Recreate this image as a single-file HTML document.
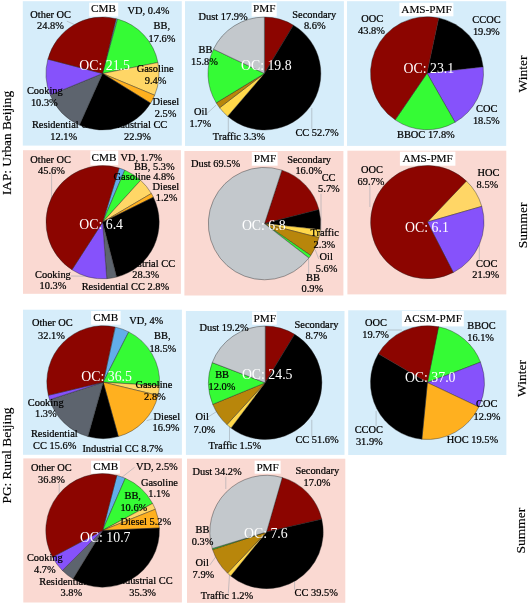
<!DOCTYPE html>
<html><head><meta charset="utf-8"><title>OC source apportionment</title>
<style>html,body{margin:0;padding:0;background:#fff}svg{display:block}text{font-family:"Liberation Serif","Times New Roman",serif}</style></head><body>
<svg width="529" height="605" viewBox="0 0 529 605">
<rect width="529" height="605" fill="#fff"/>
<rect x="22.8" y="1.2" width="159.0" height="144.4" fill="#d6edfa"/>
<rect x="185" y="1.2" width="158.9" height="144.7" fill="#d6edfa"/>
<rect x="347" y="1.2" width="159.2" height="144.7" fill="#d6edfa"/>
<rect x="23" y="150.2" width="157.9" height="143.6" fill="#fad9d2"/>
<rect x="184.4" y="151" width="159.0" height="144.5" fill="#fad9d2"/>
<rect x="347.4" y="150.7" width="158.9" height="143.7" fill="#fad9d2"/>
<rect x="23" y="309.7" width="158.9" height="145.1" fill="#d6edfa"/>
<rect x="185.9" y="311" width="158.6" height="143.9" fill="#d6edfa"/>
<rect x="348.2" y="310.3" width="158.2" height="144.7" fill="#d6edfa"/>
<rect x="23.3" y="458.4" width="158.6" height="144.1" fill="#fad9d2"/>
<rect x="187" y="458.7" width="158.3" height="144.1" fill="#fad9d2"/>
<rect x="89.2" y="2.7" width="29.0" height="13.8" fill="#fff"/>
<rect x="251.6" y="2.6" width="25.1" height="14.0" fill="#fff"/>
<rect x="399.4" y="2.7" width="54.0" height="13.6" fill="#fff"/>
<rect x="90.4" y="150.5" width="27.8" height="14.7" fill="#fff"/>
<rect x="251.8" y="152.0" width="25.8" height="13.7" fill="#fff"/>
<rect x="399.9" y="151.7" width="55.5" height="14.0" fill="#fff"/>
<rect x="91.1" y="311" width="29.5" height="13.7" fill="#fff"/>
<rect x="252.1" y="311.5" width="24.6" height="13.2" fill="#fff"/>
<rect x="401.9" y="311" width="61.9" height="15.4" fill="#fff"/>
<rect x="91.1" y="460.7" width="28.8" height="13.0" fill="#fff"/>
<rect x="254.6" y="460.7" width="26.0" height="13.0" fill="#fff"/>
<line x1="311.8" y1="108" x2="311.8" y2="129" stroke="#9ba1a8" stroke-width="0.55"/>
<line x1="228.3" y1="117.5" x2="228.3" y2="132.7" stroke="#9ba1a8" stroke-width="0.55"/>
<line x1="206.1" y1="114.3" x2="216" y2="105.2" stroke="#9ba1a8" stroke-width="0.55"/>
<line x1="51.6" y1="173.8" x2="51.6" y2="207" stroke="#9ba1a8" stroke-width="0.55"/>
<line x1="70.7" y1="276" x2="89" y2="276.3" stroke="#9ba1a8" stroke-width="0.55"/>
<line x1="369.9" y1="184.9" x2="369.9" y2="207" stroke="#9ba1a8" stroke-width="0.55"/>
<line x1="479.3" y1="245" x2="479.3" y2="259.8" stroke="#9ba1a8" stroke-width="0.55"/>
<line x1="311.8" y1="419.8" x2="311.8" y2="437" stroke="#9ba1a8" stroke-width="0.55"/>
<line x1="229.5" y1="426" x2="229.5" y2="442" stroke="#9ba1a8" stroke-width="0.55"/>
<line x1="207.4" y1="417.4" x2="217.2" y2="411.2" stroke="#9ba1a8" stroke-width="0.55"/>
<line x1="376.1" y1="411" x2="376.1" y2="426" stroke="#9ba1a8" stroke-width="0.55"/>
<line x1="134.6" y1="467.3" x2="121.1" y2="477.9" stroke="#9ba1a8" stroke-width="0.55"/>
<line x1="59.2" y1="483.5" x2="59.2" y2="494" stroke="#9ba1a8" stroke-width="0.55"/>
<line x1="225.8" y1="476.7" x2="225.8" y2="489" stroke="#9ba1a8" stroke-width="0.55"/>
<line x1="229.5" y1="575" x2="228.3" y2="593.4" stroke="#9ba1a8" stroke-width="0.55"/>
<line x1="294.6" y1="581" x2="294.6" y2="589.7" stroke="#9ba1a8" stroke-width="0.55"/>
<line x1="209.8" y1="565" x2="216" y2="556.5" stroke="#9ba1a8" stroke-width="0.55"/>
<line x1="66.9" y1="21.2" x2="73.7" y2="24.2" stroke="#9ba1a8" stroke-width="0.55"/>
<line x1="321" y1="193.7" x2="321" y2="232" stroke="#9ba1a8" stroke-width="0.55"/>
<line x1="308.6" y1="258.9" x2="308.6" y2="276.9" stroke="#9ba1a8" stroke-width="0.55"/>
<line x1="315.3" y1="249.9" x2="318.7" y2="258.9" stroke="#9ba1a8" stroke-width="0.55"/>
<line x1="146.6" y1="420.7" x2="152.7" y2="418.8" stroke="#9ba1a8" stroke-width="0.55"/>
<line x1="387.2" y1="330" x2="401.9" y2="330" stroke="#9ba1a8" stroke-width="0.55"/>
<g stroke="#222" stroke-width="0.4" stroke-linejoin="round">
<path d="M102.5 73.5L116.17 18.68A56.5 56.5 0 0 1 117.54 19.04Z" fill="#62aeea"/>
<path d="M102.5 73.5L117.54 19.04A56.5 56.5 0 0 1 157.92 62.53Z" fill="#35fb35"/>
<path d="M102.5 73.5L157.92 62.53A56.5 56.5 0 0 1 154.65 95.25Z" fill="#ffd666"/>
<path d="M102.5 73.5L154.65 95.25A56.5 56.5 0 0 1 150.60 103.14Z" fill="#ffb01f"/>
<path d="M102.5 73.5L150.60 103.14A56.5 56.5 0 0 1 79.45 125.08Z" fill="#000000"/>
<path d="M102.5 73.5L79.45 125.08A56.5 56.5 0 0 1 50.25 94.99Z" fill="#5d646e"/>
<path d="M102.5 73.5L50.25 94.99A56.5 56.5 0 0 1 47.85 59.14Z" fill="#8652fb"/>
<path d="M102.5 73.5L47.85 59.14A56.5 56.5 0 0 1 116.17 18.68Z" fill="#8c0500"/>
</g>
<g stroke="#222" stroke-width="0.4" stroke-linejoin="round">
<path d="M264.4 73.5L264.40 17.10A56.4 56.4 0 0 1 293.41 25.14Z" fill="#8c0500"/>
<path d="M264.4 73.5L293.41 25.14A56.4 56.4 0 1 1 227.64 116.27Z" fill="#000000"/>
<path d="M264.4 73.5L227.64 116.27A56.4 56.4 0 0 1 219.62 107.79Z" fill="#ffd84a"/>
<path d="M264.4 73.5L219.62 107.79A56.4 56.4 0 0 1 216.22 102.82Z" fill="#b8860b"/>
<path d="M264.4 73.5L216.22 102.82A56.4 56.4 0 0 1 213.52 49.17Z" fill="#35fb35"/>
<path d="M264.4 73.5L213.52 49.17A56.4 56.4 0 0 1 264.40 17.10Z" fill="#c3c8cc"/>
</g>
<g stroke="#222" stroke-width="0.4" stroke-linejoin="round">
<path d="M427.0 73.2L438.75 17.93A56.5 56.5 0 0 1 483.15 66.94Z" fill="#000000"/>
<path d="M427.0 73.2L483.15 66.94A56.5 56.5 0 0 1 455.04 122.25Z" fill="#8652fb"/>
<path d="M427.0 73.2L455.04 122.25A56.5 56.5 0 0 1 395.14 119.86Z" fill="#35fb35"/>
<path d="M427.0 73.2L395.14 119.86A56.5 56.5 0 0 1 438.75 17.93Z" fill="#8c0500"/>
</g>
<g stroke="#222" stroke-width="0.4" stroke-linejoin="round">
<path d="M102.6 222.2L119.15 168.07A56.6 56.6 0 0 1 124.82 170.15Z" fill="#62aeea"/>
<path d="M102.6 222.2L124.82 170.15A56.6 56.6 0 0 1 140.62 180.27Z" fill="#35fb35"/>
<path d="M102.6 222.2L140.62 180.27A56.6 56.6 0 0 1 151.36 193.46Z" fill="#ffd666"/>
<path d="M102.6 222.2L151.36 193.46A56.6 56.6 0 0 1 153.38 197.21Z" fill="#ffb01f"/>
<path d="M102.6 222.2L153.38 197.21A56.6 56.6 0 0 1 116.60 277.04Z" fill="#000000"/>
<path d="M102.6 222.2L116.60 277.04A56.6 56.6 0 0 1 106.78 278.65Z" fill="#5d646e"/>
<path d="M102.6 222.2L106.78 278.65A56.6 56.6 0 0 1 71.91 269.75Z" fill="#8652fb"/>
<path d="M102.6 222.2L71.91 269.75A56.6 56.6 0 0 1 119.15 168.07Z" fill="#8c0500"/>
</g>
<g stroke="#222" stroke-width="0.4" stroke-linejoin="round">
<path d="M264.5 223.6L281.87 170.15A56.2 56.2 0 0 1 318.93 209.62Z" fill="#8c0500"/>
<path d="M264.5 223.6L318.93 209.62A56.2 56.2 0 0 1 320.38 229.59Z" fill="#000000"/>
<path d="M264.5 223.6L320.38 229.59A56.2 56.2 0 0 1 318.93 237.58Z" fill="#ffd84a"/>
<path d="M264.5 223.6L318.93 237.58A56.2 56.2 0 0 1 310.78 255.48Z" fill="#b8860b"/>
<path d="M264.5 223.6L310.78 255.48A56.2 56.2 0 0 1 308.91 258.05Z" fill="#35fb35"/>
<path d="M264.5 223.6L308.91 258.05A56.2 56.2 0 1 1 281.87 170.15Z" fill="#c3c8cc"/>
</g>
<g stroke="#222" stroke-width="0.4" stroke-linejoin="round">
<path d="M427.3 222.1L466.19 180.84A56.7 56.7 0 0 1 481.78 206.38Z" fill="#ffd666"/>
<path d="M427.3 222.1L481.78 206.38A56.7 56.7 0 0 1 453.27 272.50Z" fill="#8652fb"/>
<path d="M427.3 222.1L453.27 272.50A56.7 56.7 0 1 1 466.44 181.08Z" fill="#8c0500"/>
</g>
<g stroke="#222" stroke-width="0.4" stroke-linejoin="round">
<path d="M103.2 382.2L115.41 327.14A56.4 56.4 0 0 1 128.72 331.90Z" fill="#62aeea"/>
<path d="M103.2 382.2L128.72 331.90A56.4 56.4 0 0 1 159.49 385.64Z" fill="#35fb35"/>
<path d="M103.2 382.2L159.49 385.64A56.4 56.4 0 0 1 158.02 395.44Z" fill="#ffd666"/>
<path d="M103.2 382.2L158.02 395.44A56.4 56.4 0 0 1 118.35 436.53Z" fill="#ffb01f"/>
<path d="M103.2 382.2L118.35 436.53A56.4 56.4 0 0 1 87.90 436.49Z" fill="#000000"/>
<path d="M103.2 382.2L87.90 436.49A56.4 56.4 0 0 1 49.59 399.72Z" fill="#5d646e"/>
<path d="M103.2 382.2L49.59 399.72A56.4 56.4 0 0 1 48.34 395.29Z" fill="#8652fb"/>
<path d="M103.2 382.2L48.34 395.29A56.4 56.4 0 0 1 115.06 327.06Z" fill="#8c0500"/>
</g>
<g stroke="#222" stroke-width="0.4" stroke-linejoin="round">
<path d="M265.2 382.8L265.20 326.10A56.7 56.7 0 0 1 294.67 334.36Z" fill="#8c0500"/>
<path d="M265.2 382.8L294.67 334.36A56.7 56.7 0 1 1 231.01 428.03Z" fill="#000000"/>
<path d="M265.2 382.8L231.01 428.03A56.7 56.7 0 0 1 226.91 424.62Z" fill="#ffd84a"/>
<path d="M265.2 382.8L226.91 424.62A56.7 56.7 0 0 1 212.75 404.33Z" fill="#b8860b"/>
<path d="M265.2 382.8L212.75 404.33A56.7 56.7 0 0 1 212.22 362.59Z" fill="#35fb35"/>
<path d="M265.2 382.8L212.22 362.59A56.7 56.7 0 0 1 265.20 326.10Z" fill="#c3c8cc"/>
</g>
<g stroke="#222" stroke-width="0.4" stroke-linejoin="round">
<path d="M427.4 382.6L438.26 326.75A56.9 56.9 0 0 1 480.51 362.17Z" fill="#35fb35"/>
<path d="M427.4 382.6L480.51 362.17A56.9 56.9 0 0 1 478.80 407.01Z" fill="#8652fb"/>
<path d="M427.4 382.6L478.80 407.01A56.9 56.9 0 0 1 421.85 439.23Z" fill="#ffb01f"/>
<path d="M427.4 382.6L421.85 439.23A56.9 56.9 0 0 1 378.34 353.77Z" fill="#000000"/>
<path d="M427.4 382.6L378.34 353.77A56.9 56.9 0 0 1 438.61 326.81Z" fill="#8c0500"/>
</g>
<g stroke="#222" stroke-width="0.4" stroke-linejoin="round">
<path d="M102.6 530.4L116.82 475.41A56.8 56.8 0 0 1 125.25 478.31Z" fill="#62aeea"/>
<path d="M102.6 530.4L125.25 478.31A56.8 56.8 0 0 1 152.59 503.44Z" fill="#35fb35"/>
<path d="M102.6 530.4L152.59 503.44A56.8 56.8 0 0 1 155.32 509.25Z" fill="#ffd666"/>
<path d="M102.6 530.4L155.32 509.25A56.8 56.8 0 0 1 159.35 528.00Z" fill="#ffb01f"/>
<path d="M102.6 530.4L159.35 528.00A56.8 56.8 0 0 1 72.99 578.87Z" fill="#000000"/>
<path d="M102.6 530.4L72.99 578.87A56.8 56.8 0 0 1 62.37 570.49Z" fill="#5d646e"/>
<path d="M102.6 530.4L62.37 570.49A56.8 56.8 0 0 1 52.44 557.05Z" fill="#8652fb"/>
<path d="M102.6 530.4L52.44 557.05A56.8 56.8 0 0 1 116.82 475.41Z" fill="#8c0500"/>
</g>
<g stroke="#222" stroke-width="0.4" stroke-linejoin="round">
<path d="M266.5 532.0L281.94 477.44A56.7 56.7 0 0 1 321.75 519.25Z" fill="#8c0500"/>
<path d="M266.5 532.0L321.75 519.25A56.7 56.7 0 0 1 230.66 575.94Z" fill="#000000"/>
<path d="M266.5 532.0L230.66 575.94A56.7 56.7 0 0 1 227.46 573.12Z" fill="#ffd84a"/>
<path d="M266.5 532.0L227.46 573.12A56.7 56.7 0 0 1 212.59 549.56Z" fill="#b8860b"/>
<path d="M266.5 532.0L212.59 549.56A56.7 56.7 0 0 1 212.27 548.54Z" fill="#35fb35"/>
<path d="M266.5 532.0L212.27 548.54A56.7 56.7 0 0 1 282.28 477.54Z" fill="#c3c8cc"/>
</g>
<text x="103.5" y="12.4" font-size="11.2" text-anchor="middle" fill="#000" stroke="#000" stroke-width="0.15">CMB</text>
<text x="264.2" y="12.4" font-size="11.2" text-anchor="middle" fill="#000" stroke="#000" stroke-width="0.15">PMF</text>
<text x="426.5" y="12.6" font-size="11.2" text-anchor="middle" fill="#000" stroke="#000" stroke-width="0.15">AMS-PMF</text>
<text x="104" y="160.6" font-size="11.2" text-anchor="middle" fill="#000" stroke="#000" stroke-width="0.15">CMB</text>
<text x="265" y="162.0" font-size="11.2" text-anchor="middle" fill="#000" stroke="#000" stroke-width="0.15">PMF</text>
<text x="427.6" y="161.6" font-size="11.2" text-anchor="middle" fill="#000" stroke="#000" stroke-width="0.15">AMS-PMF</text>
<text x="105.8" y="321.4" font-size="11.2" text-anchor="middle" fill="#000" stroke="#000" stroke-width="0.15">CMB</text>
<text x="264.8" y="321.5" font-size="11.2" text-anchor="middle" fill="#000" stroke="#000" stroke-width="0.15">PMF</text>
<text x="433.0" y="322.3" font-size="11.2" text-anchor="middle" fill="#000" stroke="#000" stroke-width="0.15">ACSM-PMF</text>
<text x="105.8" y="470.0" font-size="11.2" text-anchor="middle" fill="#000" stroke="#000" stroke-width="0.15">CMB</text>
<text x="267.6" y="470.5" font-size="11.2" text-anchor="middle" fill="#000" stroke="#000" stroke-width="0.15">PMF</text>
<text x="30.3" y="17.7" font-size="10.4" fill="#000" stroke="#000" stroke-width="0.22">Other OC</text>
<text x="37.1" y="28.7" font-size="10.4" fill="#000" stroke="#000" stroke-width="0.22">24.8%</text>
<text x="127.5" y="14.0" font-size="10.4" fill="#000" stroke="#000" stroke-width="0.22">VD, 0.4%</text>
<text x="153.6" y="29.0" font-size="10.4" fill="#000" stroke="#000" stroke-width="0.22">BB,</text>
<text x="148.5" y="41.7" font-size="10.4" fill="#000" stroke="#000" stroke-width="0.22">17.6%</text>
<text x="136.7" y="72.4" font-size="10.4" fill="#000" stroke="#000" stroke-width="0.22">Gasoline</text>
<text x="144.8" y="84.3" font-size="10.4" fill="#000" stroke="#000" stroke-width="0.22">9.4%</text>
<text x="152.6" y="105.2" font-size="10.4" fill="#000" stroke="#000" stroke-width="0.22">Diesel</text>
<text x="154.7" y="116.7" font-size="10.4" fill="#000" stroke="#000" stroke-width="0.22">2.5%</text>
<text x="111" y="128.0" font-size="10.4" fill="#000" stroke="#000" stroke-width="0.22">Industrial CC</text>
<text x="124" y="139.5" font-size="10.4" fill="#000" stroke="#000" stroke-width="0.22">22.9%</text>
<text x="31.9" y="128.0" font-size="10.4" fill="#000" stroke="#000" stroke-width="0.22">Residential CC</text>
<text x="50.3" y="139.5" font-size="10.4" fill="#000" stroke="#000" stroke-width="0.22">12.1%</text>
<text x="26.9" y="94.3" font-size="10.4" fill="#000" stroke="#000" stroke-width="0.22">Cooking</text>
<text x="30.9" y="106.1" font-size="10.4" fill="#000" stroke="#000" stroke-width="0.22">10.3%</text>
<text x="198.6" y="19.7" font-size="10.4" fill="#000" stroke="#000" stroke-width="0.22">Dust 17.9%</text>
<text x="292.3" y="17.7" font-size="10.4" fill="#000" stroke="#000" stroke-width="0.22">Secondary</text>
<text x="303.9" y="29.4" font-size="10.4" fill="#000" stroke="#000" stroke-width="0.22">8.6%</text>
<text x="198.6" y="52.7" font-size="10.4" fill="#000" stroke="#000" stroke-width="0.22">BB</text>
<text x="191" y="64.7" font-size="10.4" fill="#000" stroke="#000" stroke-width="0.22">15.8%</text>
<text x="194" y="115.0" font-size="10.4" fill="#000" stroke="#000" stroke-width="0.22">Oil</text>
<text x="189.5" y="127.1" font-size="10.4" fill="#000" stroke="#000" stroke-width="0.22">1.7%</text>
<text x="212.7" y="139.7" font-size="10.4" fill="#000" stroke="#000" stroke-width="0.22">Traffic 3.3%</text>
<text x="295.4" y="135.9" font-size="10.4" fill="#000" stroke="#000" stroke-width="0.22">CC 52.7%</text>
<text x="361.2" y="21.9" font-size="10.4" fill="#000" stroke="#000" stroke-width="0.22">OOC</text>
<text x="358.1" y="33.5" font-size="10.4" fill="#000" stroke="#000" stroke-width="0.22">43.8%</text>
<text x="472.3" y="23.2" font-size="10.4" fill="#000" stroke="#000" stroke-width="0.22">CCOC</text>
<text x="472.9" y="35.0" font-size="10.4" fill="#000" stroke="#000" stroke-width="0.22">19.9%</text>
<text x="476" y="112.4" font-size="10.4" fill="#000" stroke="#000" stroke-width="0.22">COC</text>
<text x="472.9" y="123.9" font-size="10.4" fill="#000" stroke="#000" stroke-width="0.22">18.5%</text>
<text x="397" y="137.6" font-size="10.4" fill="#000" stroke="#000" stroke-width="0.22">BBOC 17.8%</text>
<text x="30.3" y="162.7" font-size="10.4" fill="#000" stroke="#000" stroke-width="0.22">Other OC</text>
<text x="38.1" y="174.3" font-size="10.4" fill="#000" stroke="#000" stroke-width="0.22">45.6%</text>
<text x="120.4" y="161.1" font-size="10.4" fill="#000" stroke="#000" stroke-width="0.22">VD, 1.7%</text>
<text x="133.9" y="169.9" font-size="10.4" fill="#000" stroke="#000" stroke-width="0.22">BB, 5.3%</text>
<text x="113.6" y="179.9" font-size="10.4" fill="#000" stroke="#000" stroke-width="0.22">Gasoline 4.8%</text>
<text x="152.6" y="189.9" font-size="10.4" fill="#000" stroke="#000" stroke-width="0.22">Diesel</text>
<text x="155.7" y="201.1" font-size="10.4" fill="#000" stroke="#000" stroke-width="0.22">1.2%</text>
<text x="118.8" y="266.6" font-size="10.4" fill="#000" stroke="#000" stroke-width="0.22">Industrial CC</text>
<text x="132.3" y="277.5" font-size="10.4" fill="#000" stroke="#000" stroke-width="0.22">28.3%</text>
<text x="81.7" y="290.3" font-size="10.4" fill="#000" stroke="#000" stroke-width="0.22">Residential CC 2.8%</text>
<text x="35" y="277.5" font-size="10.4" fill="#000" stroke="#000" stroke-width="0.22">Cooking</text>
<text x="39.5" y="289.1" font-size="10.4" fill="#000" stroke="#000" stroke-width="0.22">10.3%</text>
<text x="191" y="166.9" font-size="10.4" fill="#000" stroke="#000" stroke-width="0.22">Dust 69.5%</text>
<text x="287.2" y="163.2" font-size="10.4" fill="#000" stroke="#000" stroke-width="0.22">Secondary</text>
<text x="295.4" y="174.4" font-size="10.4" fill="#000" stroke="#000" stroke-width="0.22">16.0%</text>
<text x="321.7" y="180.5" font-size="10.4" fill="#000" stroke="#000" stroke-width="0.22">CC</text>
<text x="318.1" y="191.7" font-size="10.4" fill="#000" stroke="#000" stroke-width="0.22">5.7%</text>
<text x="310.5" y="235.8" font-size="10.4" fill="#000" stroke="#000" stroke-width="0.22">Traffic</text>
<text x="313.6" y="247.9" font-size="10.4" fill="#000" stroke="#000" stroke-width="0.22">2.3%</text>
<text x="319.6" y="259.7" font-size="10.4" fill="#000" stroke="#000" stroke-width="0.22">Oil</text>
<text x="315.7" y="272.1" font-size="10.4" fill="#000" stroke="#000" stroke-width="0.22">5.6%</text>
<text x="306" y="280.9" font-size="10.4" fill="#000" stroke="#000" stroke-width="0.22">BB</text>
<text x="301.5" y="291.7" font-size="10.4" fill="#000" stroke="#000" stroke-width="0.22">0.9%</text>
<text x="361" y="172.5" font-size="10.4" fill="#000" stroke="#000" stroke-width="0.22">OOC</text>
<text x="357.5" y="184.6" font-size="10.4" fill="#000" stroke="#000" stroke-width="0.22">69.7%</text>
<text x="477.6" y="176.1" font-size="10.4" fill="#000" stroke="#000" stroke-width="0.22">HOC</text>
<text x="476.6" y="187.7" font-size="10.4" fill="#000" stroke="#000" stroke-width="0.22">8.5%</text>
<text x="476" y="266.6" font-size="10.4" fill="#000" stroke="#000" stroke-width="0.22">COC</text>
<text x="472.3" y="278.1" font-size="10.4" fill="#000" stroke="#000" stroke-width="0.22">21.9%</text>
<text x="31.9" y="326.0" font-size="10.4" fill="#000" stroke="#000" stroke-width="0.22">Other OC</text>
<text x="38.1" y="338.5" font-size="10.4" fill="#000" stroke="#000" stroke-width="0.22">32.1%</text>
<text x="129.2" y="324.4" font-size="10.4" fill="#000" stroke="#000" stroke-width="0.22">VD, 4%</text>
<text x="154.1" y="339.4" font-size="10.4" fill="#000" stroke="#000" stroke-width="0.22">BB,</text>
<text x="149.4" y="351.9" font-size="10.4" fill="#000" stroke="#000" stroke-width="0.22">18.5%</text>
<text x="135.4" y="388.4" font-size="10.4" fill="#000" stroke="#000" stroke-width="0.22">Gasoline</text>
<text x="144.1" y="400.2" font-size="10.4" fill="#000" stroke="#000" stroke-width="0.22">2.8%</text>
<text x="153.5" y="419.5" font-size="10.4" fill="#000" stroke="#000" stroke-width="0.22">Diesel</text>
<text x="152.6" y="431.4" font-size="10.4" fill="#000" stroke="#000" stroke-width="0.22">16.9%</text>
<text x="82.4" y="451.7" font-size="10.4" fill="#000" stroke="#000" stroke-width="0.22">Industrial CC 8.7%</text>
<text x="30.9" y="436.7" font-size="10.4" fill="#000" stroke="#000" stroke-width="0.22">Residential</text>
<text x="33.1" y="448.6" font-size="10.4" fill="#000" stroke="#000" stroke-width="0.22">CC 15.6%</text>
<text x="27.8" y="405.5" font-size="10.4" fill="#000" stroke="#000" stroke-width="0.22">Cooking</text>
<text x="35" y="417.4" font-size="10.4" fill="#000" stroke="#000" stroke-width="0.22">1.3%</text>
<text x="199.5" y="330.5" font-size="10.4" fill="#000" stroke="#000" stroke-width="0.22">Dust 19.2%</text>
<text x="294.5" y="327.5" font-size="10.4" fill="#000" stroke="#000" stroke-width="0.22">Secondary</text>
<text x="305.4" y="339.0" font-size="10.4" fill="#000" stroke="#000" stroke-width="0.22">8.7%</text>
<text x="215.2" y="377.7" font-size="10.4" fill="#000" stroke="#000" stroke-width="0.22">BB</text>
<text x="208.6" y="389.8" font-size="10.4" fill="#000" stroke="#000" stroke-width="0.22">12.0%</text>
<text x="195.5" y="420.0" font-size="10.4" fill="#000" stroke="#000" stroke-width="0.22">Oil</text>
<text x="193.6" y="432.7" font-size="10.4" fill="#000" stroke="#000" stroke-width="0.22">7.0%</text>
<text x="208.6" y="448.5" font-size="10.4" fill="#000" stroke="#000" stroke-width="0.22">Traffic 1.5%</text>
<text x="295.4" y="443.3" font-size="10.4" fill="#000" stroke="#000" stroke-width="0.22">CC 51.6%</text>
<text x="365" y="326.0" font-size="10.4" fill="#000" stroke="#000" stroke-width="0.22">OOC</text>
<text x="362.2" y="337.5" font-size="10.4" fill="#000" stroke="#000" stroke-width="0.22">19.7%</text>
<text x="467.3" y="329.1" font-size="10.4" fill="#000" stroke="#000" stroke-width="0.22">BBOC</text>
<text x="467.2" y="340.6" font-size="10.4" fill="#000" stroke="#000" stroke-width="0.22">16.1%</text>
<text x="476" y="407.0" font-size="10.4" fill="#000" stroke="#000" stroke-width="0.22">COC</text>
<text x="473.5" y="419.5" font-size="10.4" fill="#000" stroke="#000" stroke-width="0.22">12.9%</text>
<text x="446.7" y="443.3" font-size="10.4" fill="#000" stroke="#000" stroke-width="0.22">HOC 19.5%</text>
<text x="354.7" y="433.0" font-size="10.4" fill="#000" stroke="#000" stroke-width="0.22">CCOC</text>
<text x="355.9" y="445.1" font-size="10.4" fill="#000" stroke="#000" stroke-width="0.22">31.9%</text>
<text x="30.9" y="471.3" font-size="10.4" fill="#000" stroke="#000" stroke-width="0.22">Other OC</text>
<text x="38.1" y="483.1" font-size="10.4" fill="#000" stroke="#000" stroke-width="0.22">36.8%</text>
<text x="135.9" y="470.0" font-size="10.4" fill="#000" stroke="#000" stroke-width="0.22">VD, 2.5%</text>
<text x="141" y="485.6" font-size="10.4" fill="#000" stroke="#000" stroke-width="0.22">Gasoline</text>
<text x="148.3" y="497.1" font-size="10.4" fill="#000" stroke="#000" stroke-width="0.22">1.1%</text>
<text x="124.5" y="498.7" font-size="10.4" fill="#000" stroke="#000" stroke-width="0.22">BB,</text>
<text x="120.4" y="510.5" font-size="10.4" fill="#000" stroke="#000" stroke-width="0.22">10.6%</text>
<text x="120.4" y="524.9" font-size="10.4" fill="#000" stroke="#000" stroke-width="0.22">Diesel 5.2%</text>
<text x="116.3" y="584.2" font-size="10.4" fill="#000" stroke="#000" stroke-width="0.22">Industrial CC</text>
<text x="129.2" y="596.1" font-size="10.4" fill="#000" stroke="#000" stroke-width="0.22">35.3%</text>
<text x="39.3" y="585.4" font-size="10.4" fill="#000" stroke="#000" stroke-width="0.22">Residential CC</text>
<text x="60.5" y="596.1" font-size="10.4" fill="#000" stroke="#000" stroke-width="0.22">3.8%</text>
<text x="26.9" y="561.1" font-size="10.4" fill="#000" stroke="#000" stroke-width="0.22">Cooking</text>
<text x="34" y="572.7" font-size="10.4" fill="#000" stroke="#000" stroke-width="0.22">4.7%</text>
<text x="192.6" y="474.5" font-size="10.4" fill="#000" stroke="#000" stroke-width="0.22">Dust 34.2%</text>
<text x="295.4" y="473.8" font-size="10.4" fill="#000" stroke="#000" stroke-width="0.22">Secondary</text>
<text x="303.6" y="485.9" font-size="10.4" fill="#000" stroke="#000" stroke-width="0.22">17.0%</text>
<text x="195.6" y="532.7" font-size="10.4" fill="#000" stroke="#000" stroke-width="0.22">BB</text>
<text x="191.7" y="544.9" font-size="10.4" fill="#000" stroke="#000" stroke-width="0.22">0.3%</text>
<text x="195.6" y="566.1" font-size="10.4" fill="#000" stroke="#000" stroke-width="0.22">Oil</text>
<text x="192.6" y="578.2" font-size="10.4" fill="#000" stroke="#000" stroke-width="0.22">7.9%</text>
<text x="200.7" y="599.4" font-size="10.4" fill="#000" stroke="#000" stroke-width="0.22">Traffic 1.2%</text>
<text x="294.5" y="596.4" font-size="10.4" fill="#000" stroke="#000" stroke-width="0.22">CC 39.5%</text>
<text x="79.3" y="69.9" font-size="13.8" fill="#fff">OC: 21.5</text>
<text x="241" y="69.7" font-size="13.8" fill="#fff">OC: 19.8</text>
<text x="403.6" y="72.7" font-size="13.8" fill="#fff">OC: 23.1</text>
<text x="79.3" y="229.2" font-size="13.8" fill="#fff">OC: 6.4</text>
<text x="241.9" y="229.7" font-size="13.8" fill="#fff">OC: 6.8</text>
<text x="405.1" y="231.7" font-size="13.8" fill="#fff">OC: 6.1</text>
<text x="81.3" y="380.6" font-size="13.8" fill="#fff">OC: 36.5</text>
<text x="241.9" y="379.2" font-size="13.8" fill="#fff">OC: 24.5</text>
<text x="404.9" y="381.5" font-size="13.8" fill="#fff">OC: 37.0</text>
<text x="79.9" y="541.5" font-size="13.8" fill="#fff">OC: 10.7</text>
<text x="244" y="538.0" font-size="13.8" fill="#fff">OC: 7.6</text>
<text transform="translate(11.2 143) rotate(-90)" font-size="13.3" text-anchor="middle" fill="#000" stroke="#000" stroke-width="0.15">IAP: Urban Beijing</text>
<text transform="translate(11.2 455.5) rotate(-90)" font-size="13.3" text-anchor="middle" fill="#000" stroke="#000" stroke-width="0.15">PG: Rural Beijing</text>
<text transform="translate(527.2 74.1) rotate(-90)" font-size="13.5" text-anchor="middle" fill="#000" stroke="#000" stroke-width="0.15">Winter</text>
<text transform="translate(527 225.3) rotate(-90)" font-size="13.5" text-anchor="middle" fill="#000" stroke="#000" stroke-width="0.15">Summer</text>
<text transform="translate(526.2 378.6) rotate(-90)" font-size="13.5" text-anchor="middle" fill="#000" stroke="#000" stroke-width="0.15">Winter</text>
<text transform="translate(525.4 530.7) rotate(-90)" font-size="13.5" text-anchor="middle" fill="#000" stroke="#000" stroke-width="0.15">Summer</text>
</svg></body></html>
